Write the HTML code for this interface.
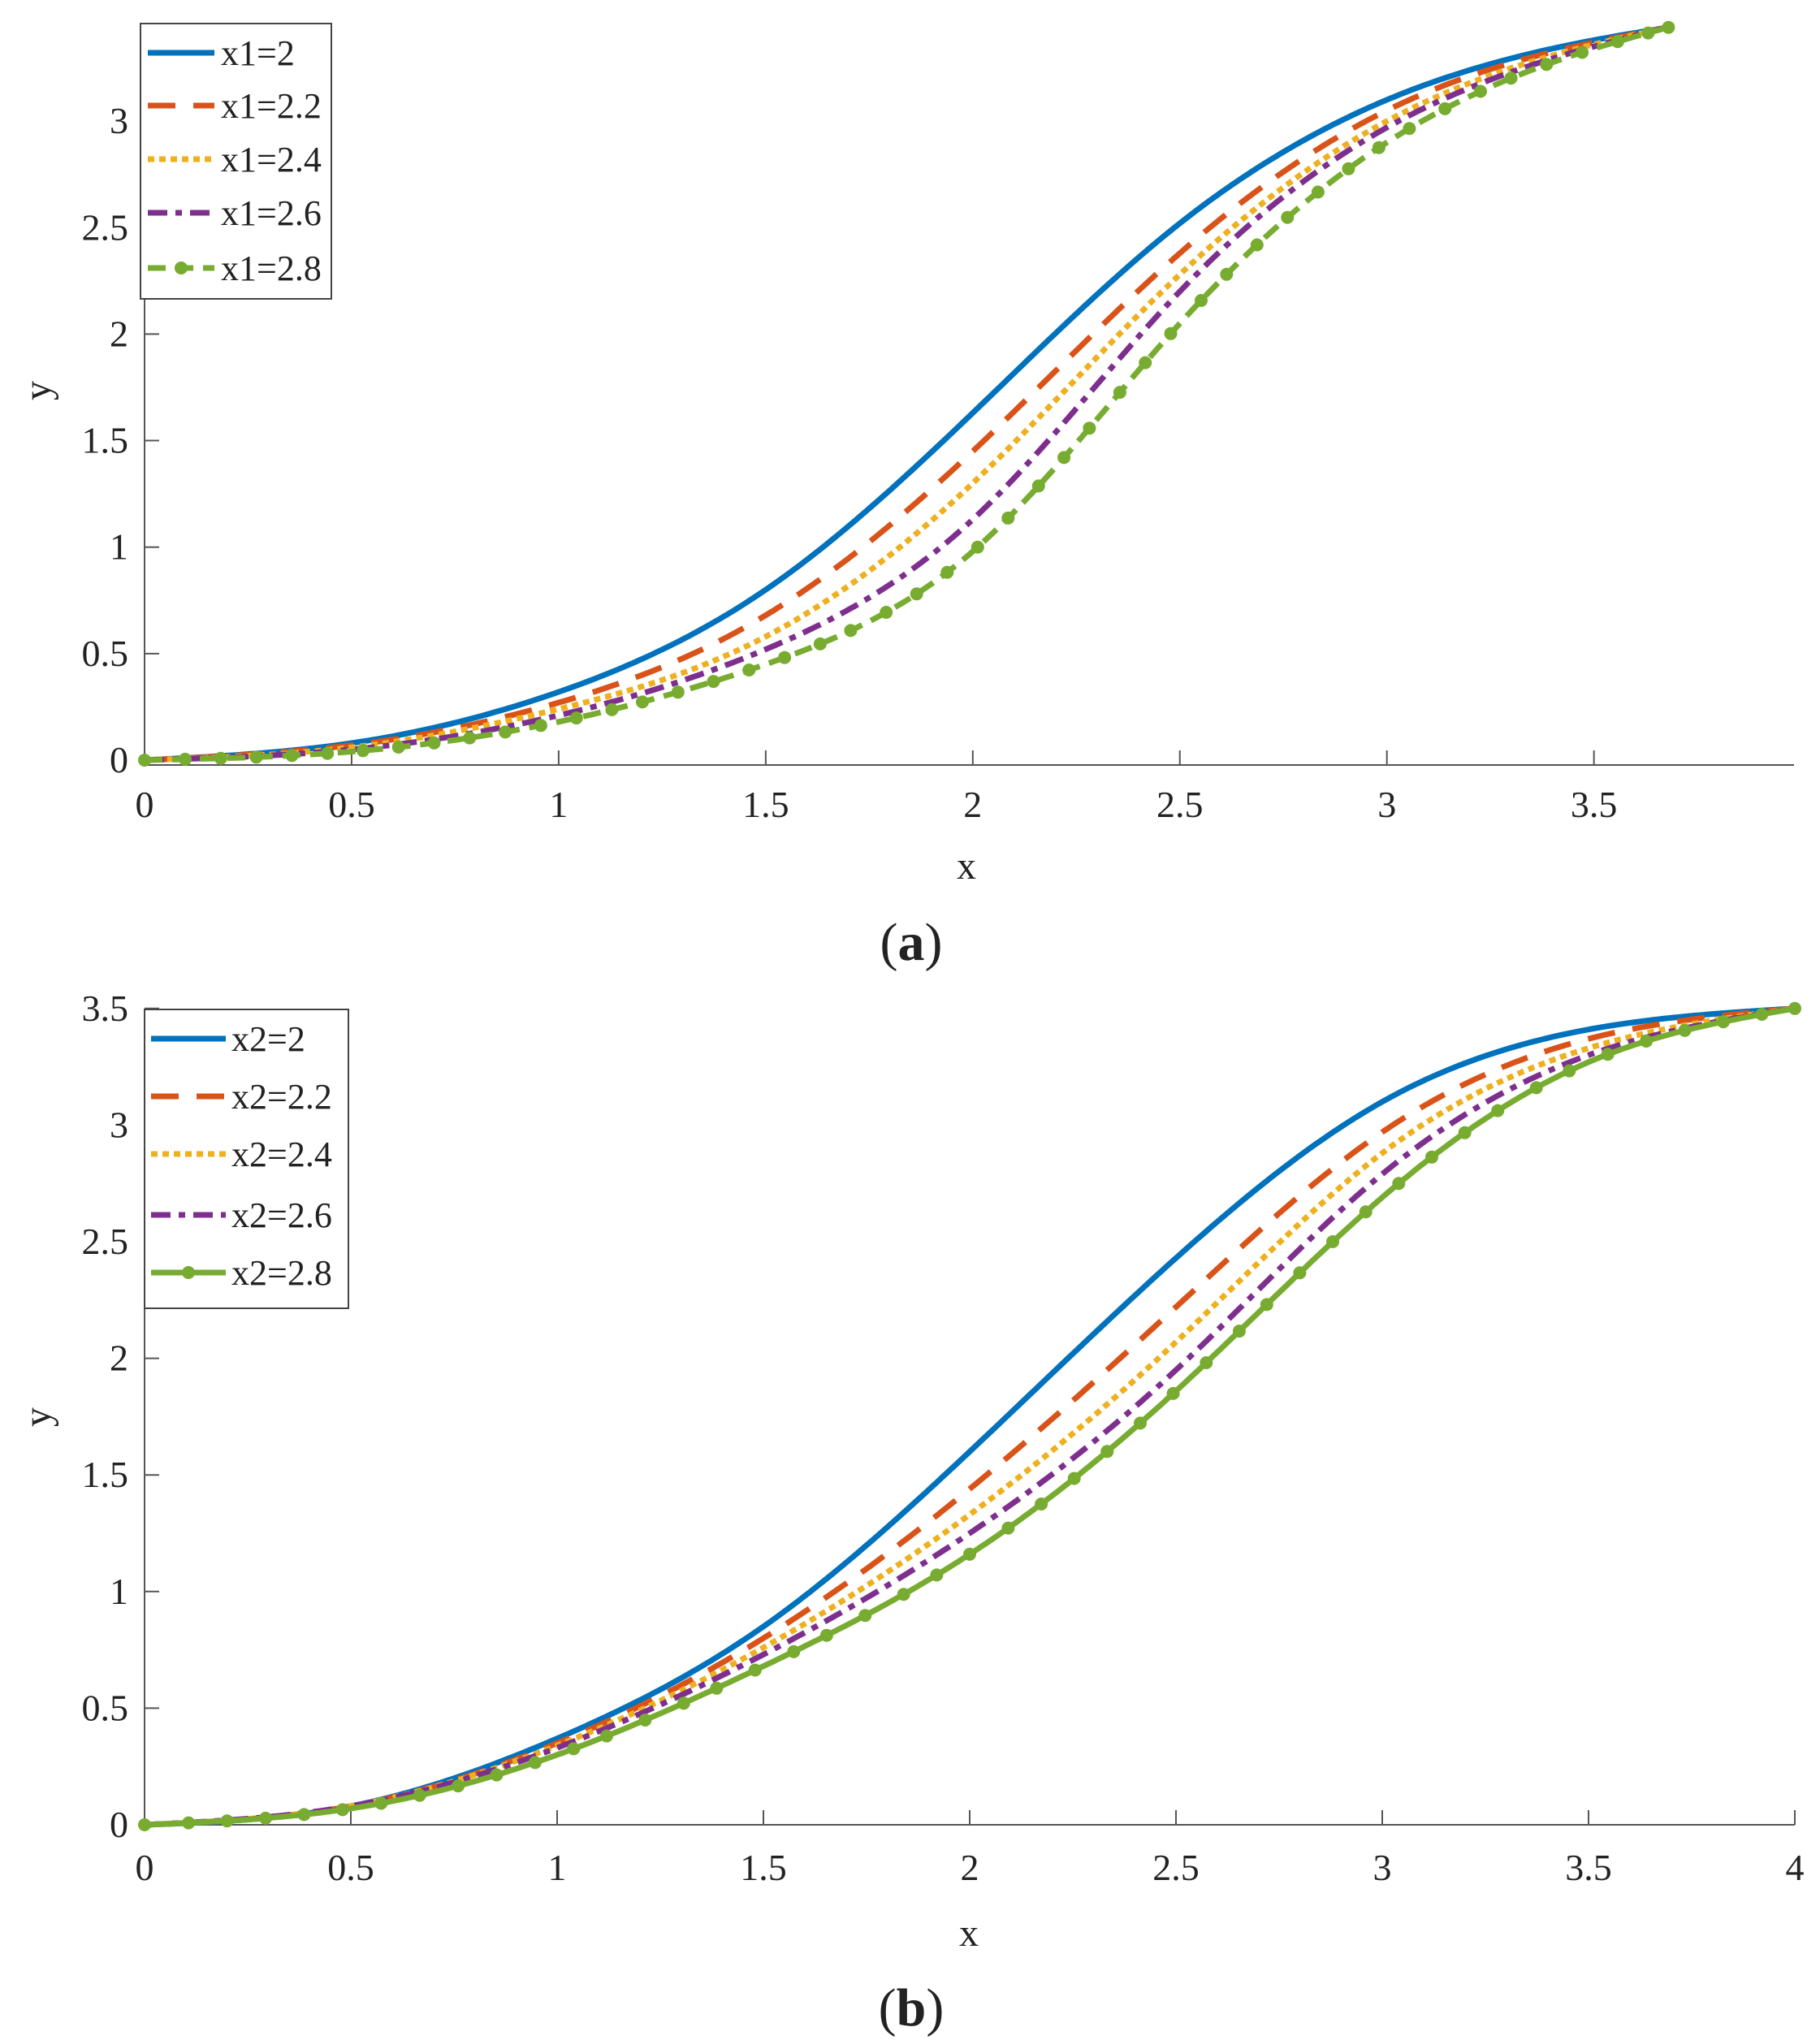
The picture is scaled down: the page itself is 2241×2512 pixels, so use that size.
<!DOCTYPE html>
<html><head><meta charset="utf-8"><style>
html,body{margin:0;padding:0;background:#fff;}
svg{display:block;}
text{font-family:"Liberation Serif",serif;fill:#222;}
</style></head><body>
<svg id="s" width="2241" height="2512" viewBox="0 0 2241 2512" xmlns="http://www.w3.org/2000/svg"></svg>
<script>
const S=document.getElementById('s');let h='';
const C=['#0072BD','#D95319','#EDB120','#7E2F8E','#77AC30'];
function spline(xs,ys){ // natural cubic spline, returns function
  const n=xs.length-1,hh=[],al=[0],l=[1],mu=[0],z=[0],c=new Array(n+1).fill(0),b=[],d=[];
  for(let i=0;i<n;i++)hh.push(xs[i+1]-xs[i]);
  for(let i=1;i<n;i++)al.push(3/hh[i]*(ys[i+1]-ys[i])-3/hh[i-1]*(ys[i]-ys[i-1]));
  for(let i=1;i<n;i++){l[i]=2*(xs[i+1]-xs[i-1])-hh[i-1]*mu[i-1];mu[i]=hh[i]/l[i];z[i]=(al[i]-hh[i-1]*z[i-1])/l[i];}
  for(let j=n-1;j>=0;j--){c[j]=(j<n-1||true)?(z[j]||0)-mu[j]*c[j+1]:0;b[j]=(ys[j+1]-ys[j])/hh[j]-hh[j]*(c[j+1]+2*c[j])/3;d[j]=(c[j+1]-c[j])/(3*hh[j]);}
  c[0]=0;
  return x=>{let i=0;while(i<n-1&&x>xs[i+1])i++;const t=x-xs[i];return ys[i]+b[i]*t+c[i]*t*t+d[i]*t*t*t;};
}
function panel(o){
  const X=v=>o.l+v*o.xs, Y=v=>o.y0-v*o.ys;
  h+=`<line x1="${o.l}" y1="${o.top}" x2="${o.l}" y2="${o.ax}" stroke="#555" stroke-width="2"/>`;
  h+=`<line x1="${o.l}" y1="${o.ax}" x2="${o.r}" y2="${o.ax}" stroke="#555" stroke-width="2"/>`;
  o.xt.forEach(v=>{h+=`<line x1="${X(v)}" y1="${o.ax}" x2="${X(v)}" y2="${o.ax-18}" stroke="#555" stroke-width="2"/>`;
    h+=`<text x="${X(v)}" y="${o.xly}" font-size="46" text-anchor="middle">${v}</text>`;});
  o.yt.forEach(v=>{h+=`<line x1="${o.l}" y1="${Y(v)}" x2="${o.l+18}" y2="${Y(v)}" stroke="#555" stroke-width="2"/>`;
    h+=`<text x="${o.l-20}" y="${Y(v)+15}" font-size="46" text-anchor="end">${v}</text>`;});
  h+=`<text x="${o.xlx}" y="${o.xlab}" font-size="48" text-anchor="middle">x</text>`;
  h+=`<text transform="translate(62,${o.ylab}) rotate(-90)" font-size="48" text-anchor="middle">y</text>`;
  h+=`<text x="1122" y="${o.cap}" font-size="66" text-anchor="middle" font-weight="bold"><tspan font-weight="normal">(</tspan>${o.capt}<tspan font-weight="normal">)</tspan></text>`;
  const D=o.dash;
  o.data.forEach((ys,i)=>{
    const f=spline(o.xg,ys),xe=o.xg[o.xg.length-1],pts=[];
    for(let k=0;k<=300;k++){const x=xe*k/300;pts.push([X(x),Y(f(x))]);}
    const d='M'+pts.map(p=>p[0].toFixed(1)+','+p[1].toFixed(1)).join('L');
    h+=`<path d="${d}" fill="none" stroke="${C[i]}" stroke-width="7" ${D[i]?`stroke-dasharray="${D[i]}"`:''}/>`;
    if(i==4){ let acc=0,next=0,step=o.step;
      for(let k=0;k<pts.length;k++){ if(k>0)acc+=Math.hypot(pts[k][0]-pts[k-1][0],pts[k][1]-pts[k-1][1])*0.6+Math.abs(pts[k][0]-pts[k-1][0])*0.4;
        if(acc>=next||k==pts.length-1){h+=`<circle cx="${pts[k][0].toFixed(1)}" cy="${pts[k][1].toFixed(1)}" r="8" fill="${C[4]}"/>`;next+=step;}}
    }
  });
  const L=o.leg;
  h+=`<rect x="${L.x}" y="${L.y}" width="${L.w}" height="${L.h}" fill="#fff" stroke="#444" stroke-width="2"/>`;
  L.labels.forEach((t,i)=>{const yy=L.ey[i];
    h+=`<line x1="${L.lx1}" y1="${yy}" x2="${L.lx2}" y2="${yy}" stroke="${C[i]}" stroke-width="7" ${D[i]?`stroke-dasharray="${D[i]}"`:''}/>`;
    if(i==4)h+=`<circle cx="${(L.lx1+L.lx2)/2}" cy="${yy}" r="8" fill="${C[4]}"/>`;
    h+=`<text x="${L.tx}" y="${yy+15}" font-size="44">${t}</text>`;});
}
panel({l:178,r:2209,ax:942,y0:936,xs:509.9,ys:262.3,top:29,xt:[0,0.5,1,1.5,2,2.5,3,3.5],yt:[0,0.5,1,1.5,2,2.5,3],
 xly:1006,xlx:1190,xlab:1082,ylab:481,cap:1182,capt:'a',step:44,dash:['','34,22','8,6','24,10,8,10','22,12'],
 xg:[0,0.5,1,1.5,2,2.5,3,3.5,3.68],
 data:[[0,0.08,0.32,0.8,1.63,2.52,3.1,3.38,3.44],[0,0.07,0.27,0.68,1.45,2.38,3.05,3.37,3.44],
 [0,0.06,0.24,0.58,1.3,2.28,3.0,3.36,3.44],[0,0.05,0.21,0.52,1.13,2.2,2.97,3.35,3.44],[0,0.04,0.18,0.45,0.98,2.05,2.9,3.34,3.44]],
 leg:{x:173,y:29,w:235,h:339,lx1:182,lx2:264,tx:272,ey:[65,130,196,262,330],labels:['x1=2','x1=2.2','x1=2.4','x1=2.6','x1=2.8']}});
panel({l:178,r:2210,ax:2247,y0:2247,xs:508,ys:287.2,top:1242,xt:[0,0.5,1,1.5,2,2.5,3,3.5,4],yt:[0,0.5,1,1.5,2,2.5,3,3.5],
 xly:2315,xlx:1193,xlab:2396,ylab:1745,cap:2494,capt:'b',step:48,dash:['','34,22','8,6','24,10,8,10',''],
 xg:[0,0.5,1,1.5,2,2.5,3,3.5,4],
 data:[[0,0.08,0.37,0.85,1.6,2.43,3.1,3.41,3.5],[0,0.08,0.35,0.8,1.44,2.22,2.97,3.37,3.5],
 [0,0.08,0.34,0.76,1.33,2.07,2.88,3.33,3.5],[0,0.08,0.33,0.73,1.25,1.95,2.79,3.3,3.5],[0,0.07,0.3,0.68,1.16,1.86,2.69,3.27,3.5]],
 leg:{x:178,y:1243,w:251,h:368,lx1:186,lx2:278,tx:285,ey:[1279,1350,1421,1496,1567],labels:['x2=2','x2=2.2','x2=2.4','x2=2.6','x2=2.8']}});
S.innerHTML=h;
</script>
</body></html>
